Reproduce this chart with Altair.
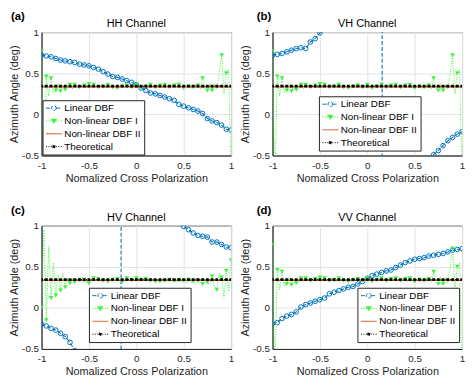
import altair as alt
import pandas as pd

FONT = "Liberation Sans, Arial, Helvetica, sans-serif"
BLUE = "#0072BD"
GREEN = "#3cf53c"
RED = "#D95319"
BLACK = "#000000"

SERIES = ["Linear DBF", "Non-linear DBF I", "Non-linear DBF II", "Theoretical"]

X41 = [-1.0, -0.95, -0.9, -0.85, -0.8, -0.75, -0.7, -0.65, -0.6, -0.55, -0.5,
       -0.45, -0.4, -0.35, -0.3, -0.25, -0.2, -0.15, -0.1, -0.05, 0.0,
       0.05, 0.1, 0.15, 0.2, 0.25, 0.3, 0.35, 0.4, 0.45, 0.5,
       0.55, 0.6, 0.65, 0.7, 0.75, 0.8, 0.85, 0.9, 0.95, 1.0]

X81 = [-1.0, -0.975, -0.95, -0.925, -0.9, -0.875, -0.85, -0.825, -0.8, -0.775,
       -0.75, -0.725, -0.7, -0.675, -0.65, -0.625, -0.6, -0.575, -0.55, -0.525,
       -0.5, -0.475, -0.45, -0.425, -0.4, -0.375, -0.35, -0.325, -0.3, -0.275,
       -0.25, -0.225, -0.2, -0.175, -0.15, -0.125, -0.1, -0.075, -0.05, -0.025,
       0.0, 0.025, 0.05, 0.075, 0.1, 0.125, 0.15, 0.175, 0.2, 0.225,
       0.25, 0.275, 0.3, 0.325, 0.35, 0.375, 0.4, 0.425, 0.45, 0.475,
       0.5, 0.525, 0.55, 0.575, 0.6, 0.625, 0.65, 0.675, 0.7, 0.725,
       0.75, 0.775, 0.8, 0.825, 0.85, 0.875, 0.9, 0.925, 0.95, 0.975, 1.0]

# Linear DBF (blue) per channel
BLUE_HH = [0.72, 0.71, 0.70, 0.68, 0.66, 0.65, 0.64, 0.63, 0.61, 0.60, 0.59,
           0.57, 0.55, 0.52, 0.49, 0.46, 0.45, 0.43, 0.41, 0.39, 0.36,
           0.32, 0.29, 0.26, 0.25, 0.23, 0.21, 0.19, 0.17, 0.12, 0.10,
           0.08, 0.06, 0.04, 0.01, -0.05, -0.08, -0.10, -0.13, -0.18, -0.19]
BLUE_VH = [0.72, 0.73, 0.74, 0.76, 0.78, 0.80, 0.81, 0.80, 0.88, 0.92, 0.99,
           1.05, 1.12, 1.21, 1.32, 1.46, 1.65, 1.92, 2.35, 3.1, 4.4,
           7.5, 16.0, 80.0, -500.0, -12.0, -5.5, -3.4, -2.3, -1.65, -1.25,
           -0.98, -0.78, -0.62, -0.49, -0.44, -0.38, -0.32, -0.28, -0.24, -0.21]
BLUE_HV = [-0.20, -0.22, -0.25, -0.27, -0.31, -0.35, -0.42, -0.52, -0.66, -0.85, -1.1,
           -1.5, -2.2, -3.4, -6.0, -14.0, -300.0, 80.0, 16.0, 7.5, 4.4,
           3.1, 2.4, 1.95, 1.7, 1.5, 1.36, 1.25, 1.16, 1.06, 0.99,
           0.95, 0.91, 0.88, 0.87, 0.86, 0.80, 0.80, 0.77, 0.74, 0.73]
BLUE_VV = [-0.19, -0.18, -0.13, -0.10, -0.08, -0.05, 0.01, 0.04, 0.06, 0.08, 0.10,
           0.12, 0.17, 0.19, 0.21, 0.23, 0.25, 0.26, 0.29, 0.32, 0.36,
           0.39, 0.41, 0.43, 0.45, 0.46, 0.49, 0.52, 0.55, 0.57, 0.59,
           0.60, 0.61, 0.63, 0.64, 0.65, 0.66, 0.68, 0.70, 0.71, 0.72]

# Non-linear DBF I (green)
GREEN_CO = [0.77, -0.80, 0.46, 0.22, 0.44, 0.26, 0.29, 0.38, 0.28, 0.35,
            0.30, 0.33, 0.36, 0.31, 0.36, 0.34, 0.33, 0.35, 0.35, 0.32,
            0.37, 0.34, 0.36, 0.33, 0.33, 0.35, 0.34, 0.32, 0.36, 0.34,
            0.33, 0.35, 0.32, 0.34, 0.34, 0.33, 0.35, 0.33, 0.33, 0.35,
            0.36, 0.33, 0.32, 0.34, 0.34, 0.33, 0.36, 0.34, 0.33, 0.35,
            0.35, 0.33, 0.36, 0.34, 0.33, 0.35, 0.35, 0.32, 0.36, 0.33,
            0.32, 0.35, 0.34, 0.32, 0.33, 0.36, 0.35, 0.31, 0.44, 0.33,
            0.29, 0.38, 0.29, 0.37, 0.33, 0.50, 0.72, 0.25, 0.50, 0.55, -0.85]
GREEN_HV = [0.00, 0.95, -0.15, 0.75, 0.12, 0.55, 0.15, 0.40, 0.21, 0.42,
            0.25, 0.36, 0.30, 0.36, 0.31, 0.35, 0.34, 0.31, 0.34, 0.31,
            0.30, 0.35, 0.36, 0.33, 0.35, 0.32, 0.33, 0.34, 0.32, 0.33,
            0.34, 0.31, 0.35, 0.33, 0.31, 0.34, 0.36, 0.35, 0.34, 0.33,
            0.36, 0.35, 0.34, 0.33, 0.35, 0.33, 0.33, 0.34, 0.32, 0.33,
            0.32, 0.34, 0.33, 0.31, 0.34, 0.32, 0.33, 0.31, 0.34, 0.32,
            0.33, 0.30, 0.34, 0.31, 0.32, 0.30, 0.33, 0.31, 0.29, 0.33,
            0.31, 0.28, 0.38, 0.26, 0.22, 0.42, 0.37, 0.12, 0.45, 0.20, 0.58]

# Non-linear DBF II (red) and Theoretical (black)
RED_Y = [0.335, 0.335, 0.335, 0.335, 0.335, 0.335, 0.335, 0.335, 0.335, 0.335, 0.335,
         0.335, 0.335, 0.335, 0.335, 0.335, 0.335, 0.335, 0.335, 0.335, 0.335,
         0.335, 0.335, 0.335, 0.335, 0.335, 0.335, 0.335, 0.335, 0.335, 0.335,
         0.335, 0.335, 0.335, 0.335, 0.335, 0.335, 0.335, 0.335, 0.335, 0.335]
THEO_Y = [0.343, 0.343, 0.343, 0.343, 0.343, 0.343, 0.343, 0.343, 0.343, 0.343, 0.343,
          0.343, 0.343, 0.343, 0.343, 0.343, 0.343, 0.343, 0.343, 0.343, 0.343,
          0.343, 0.343, 0.343, 0.343, 0.343, 0.343, 0.343, 0.343, 0.343, 0.343,
          0.343, 0.343, 0.343, 0.343, 0.343, 0.343, 0.343, 0.343, 0.343, 0.343]

X_TICKS = [-1, -0.5, 0, 0.5, 1]
Y_TICKS = [-0.5, 0, 0.5, 1]

W, H = 192, 125

# legend symbols: line + marker (custom paths)
CIRC = ("M0.3,0L0.26,0.15L0.15,0.26L0,0.3L-0.15,0.26L-0.26,0.15L-0.3,0"
        "L-0.26,-0.15L-0.15,-0.26L0,-0.3L0.15,-0.26L0.26,-0.15Z")
PATHS = [
    "M-1,0L-0.3,0M0.3,0L1,0" + CIRC,
    "M-1,0L1,0M-0.35,-0.26L0.35,-0.26L0,0.32Z",
    "M-1,0L1,0",
    "M-1,0L1,0M-0.15,-0.15L0.15,-0.15L0.15,0.15L-0.15,0.15Z",
]
STROKES = [BLUE, GREEN, RED, BLACK]
FILLS = ["transparent", GREEN, "transparent", BLACK]
DASHES = [[4, 2], [1, 1.5], [1, 0], [1, 1.5]]

XS = alt.Scale(domain=[-1, 1], nice=False, zero=False)
YS = alt.Scale(domain=[-0.5, 1], nice=False, zero=False)
XAX = alt.Axis(values=X_TICKS, labelExpr="'' + datum.value", title="Nomalized Cross Polarization",
               labelFlush=False, labelPadding=5, titlePadding=2, grid=True, ticks=False)
YAX = alt.Axis(values=Y_TICKS, labelExpr="'' + datum.value", title="Azimuth Angle (deg)",
               labelPadding=3, titlePadding=2, grid=True, ticks=False)


def make_legend(**pos):
    return alt.Legend(title=None, padding=3, fillColor="white", strokeColor="#262626",
                      labelFont=FONT, labelFontSize=10, labelColor="black", labelLimit=200,
                      symbolSize=256, clipHeight=10, rowPadding=3, symbolStrokeWidth=1,
                      labelOffset=2, symbolOffset=0, **pos)


def panel(letter, title, blue, green, leg, letter_x):
    X = alt.X("x:Q", scale=XS, axis=XAX)
    Y = alt.Y("y:Q", scale=YS, axis=YAX)
    bdf = pd.DataFrame({"x": X41, "y": blue, "i": list(range(41))})
    gdf = pd.DataFrame({"x": X81, "y": green, "i": list(range(81))})
    gpts = gdf.iloc[::2]
    rdf = pd.DataFrame({"x": X41, "y": RED_Y, "i": list(range(41))})
    tdf = pd.DataFrame({"x": X41, "y": THEO_Y, "i": list(range(41))})
    ldf = pd.DataFrame({"x": [5, 5, 5, 5], "y": [0, 0, 0, 0], "series": SERIES})
    lab = pd.DataFrame({"t": [letter]})
    ttl = pd.DataFrame({"t": [title]})

    layers = [
        alt.Chart(bdf).mark_line(color=BLUE, strokeDash=[4, 2], strokeWidth=1.1, clip=True)
        .encode(x=X, y=Y, order="i:Q"),
        alt.Chart(bdf).mark_point(shape="circle", filled=False, color=BLUE, size=22,
                                  strokeWidth=1, opacity=1, clip=True).encode(x=X, y=Y),
        alt.Chart(gdf).mark_line(color=GREEN, strokeDash=[1, 1.5], strokeWidth=1, clip=True)
        .encode(x=X, y=Y, order="i:Q"),
        alt.Chart(gpts).mark_point(shape="triangle-down", filled=True, color=GREEN, size=22,
                                   opacity=1, clip=True).encode(x=X, y=Y),
        alt.Chart(rdf).mark_line(color=RED, strokeWidth=1.2, clip=True)
        .encode(x=X, y=Y, order="i:Q"),
        alt.Chart(tdf).mark_line(color=BLACK, strokeDash=[1, 1.5], strokeWidth=1, clip=True)
        .encode(x=X, y=Y, order="i:Q"),
        alt.Chart(tdf).mark_point(shape="square", filled=True, color=BLACK, size=8,
                                  opacity=1, clip=True).encode(x=X, y=Y),
        alt.Chart(ldf).mark_point(clip=True, strokeWidth=1, opacity=1).encode(
            x=X, y=Y,
            stroke=alt.Stroke("series:N", scale=alt.Scale(domain=SERIES, range=STROKES), legend=leg),
            fill=alt.Fill("series:N", scale=alt.Scale(domain=SERIES, range=FILLS), legend=leg),
            shape=alt.Shape("series:N", scale=alt.Scale(domain=SERIES, range=PATHS), legend=leg),
            strokeDash=alt.StrokeDash("series:N", scale=alt.Scale(domain=SERIES, range=DASHES), legend=leg),
        ),
        alt.Chart(lab).mark_text(align="left", baseline="middle", fontWeight="bold",
                                 fontSize=11.5, font=FONT, color="black")
        .encode(x=alt.value(letter_x), y=alt.value(-15), text="t:N"),
        alt.Chart(ttl).mark_text(align="center", baseline="middle", fontSize=11,
                                 font=FONT, color="black")
        .encode(x=alt.value(W / 2), y=alt.value(-8), text="t:N"),
    ]
    return alt.layer(*layers).properties(width=W, height=H)


pa = panel("(a)", "HH Channel", BLUE_HH, GREEN_CO,
           make_legend(orient="bottom-left", offset=1), -31)
pb = panel("(b)", "VH Channel", BLUE_VH, GREEN_CO,
           make_legend(orient="none", legendX=47, legendY=65), -16)
pc = panel("(c)", "HV Channel", BLUE_HV, GREEN_HV,
           make_legend(orient="none", legendX=48, legendY=63), -31)
pd_ = panel("(d)", "VV Channel", BLUE_VV, GREEN_CO,
            make_legend(orient="none", legendX=86, legendY=63), -16)

RES = dict(stroke="independent", fill="independent", shape="independent", strokeDash="independent")

row1 = alt.hconcat(pa, pb, spacing=4).resolve_scale(**RES).resolve_legend(**RES)
row2 = alt.hconcat(pc, pd_, spacing=4).resolve_scale(**RES).resolve_legend(**RES)

chart = (
    alt.vconcat(row1, row2, spacing=20)
    .resolve_scale(**RES).resolve_legend(**RES)
    .properties(padding=0, background="white")
    .configure_view(stroke="#262626", strokeWidth=1)
    .configure_axis(labelFont=FONT, titleFont=FONT, labelFontSize=10, titleFontSize=11,
                    labelColor="#262626", titleColor="#262626", titleFontWeight="normal",
                    domainColor="#262626", gridColor="#e3e3e3", gridWidth=1)
)

chart.save("out.html", embed_options={"renderer": "svg", "actions": False})
